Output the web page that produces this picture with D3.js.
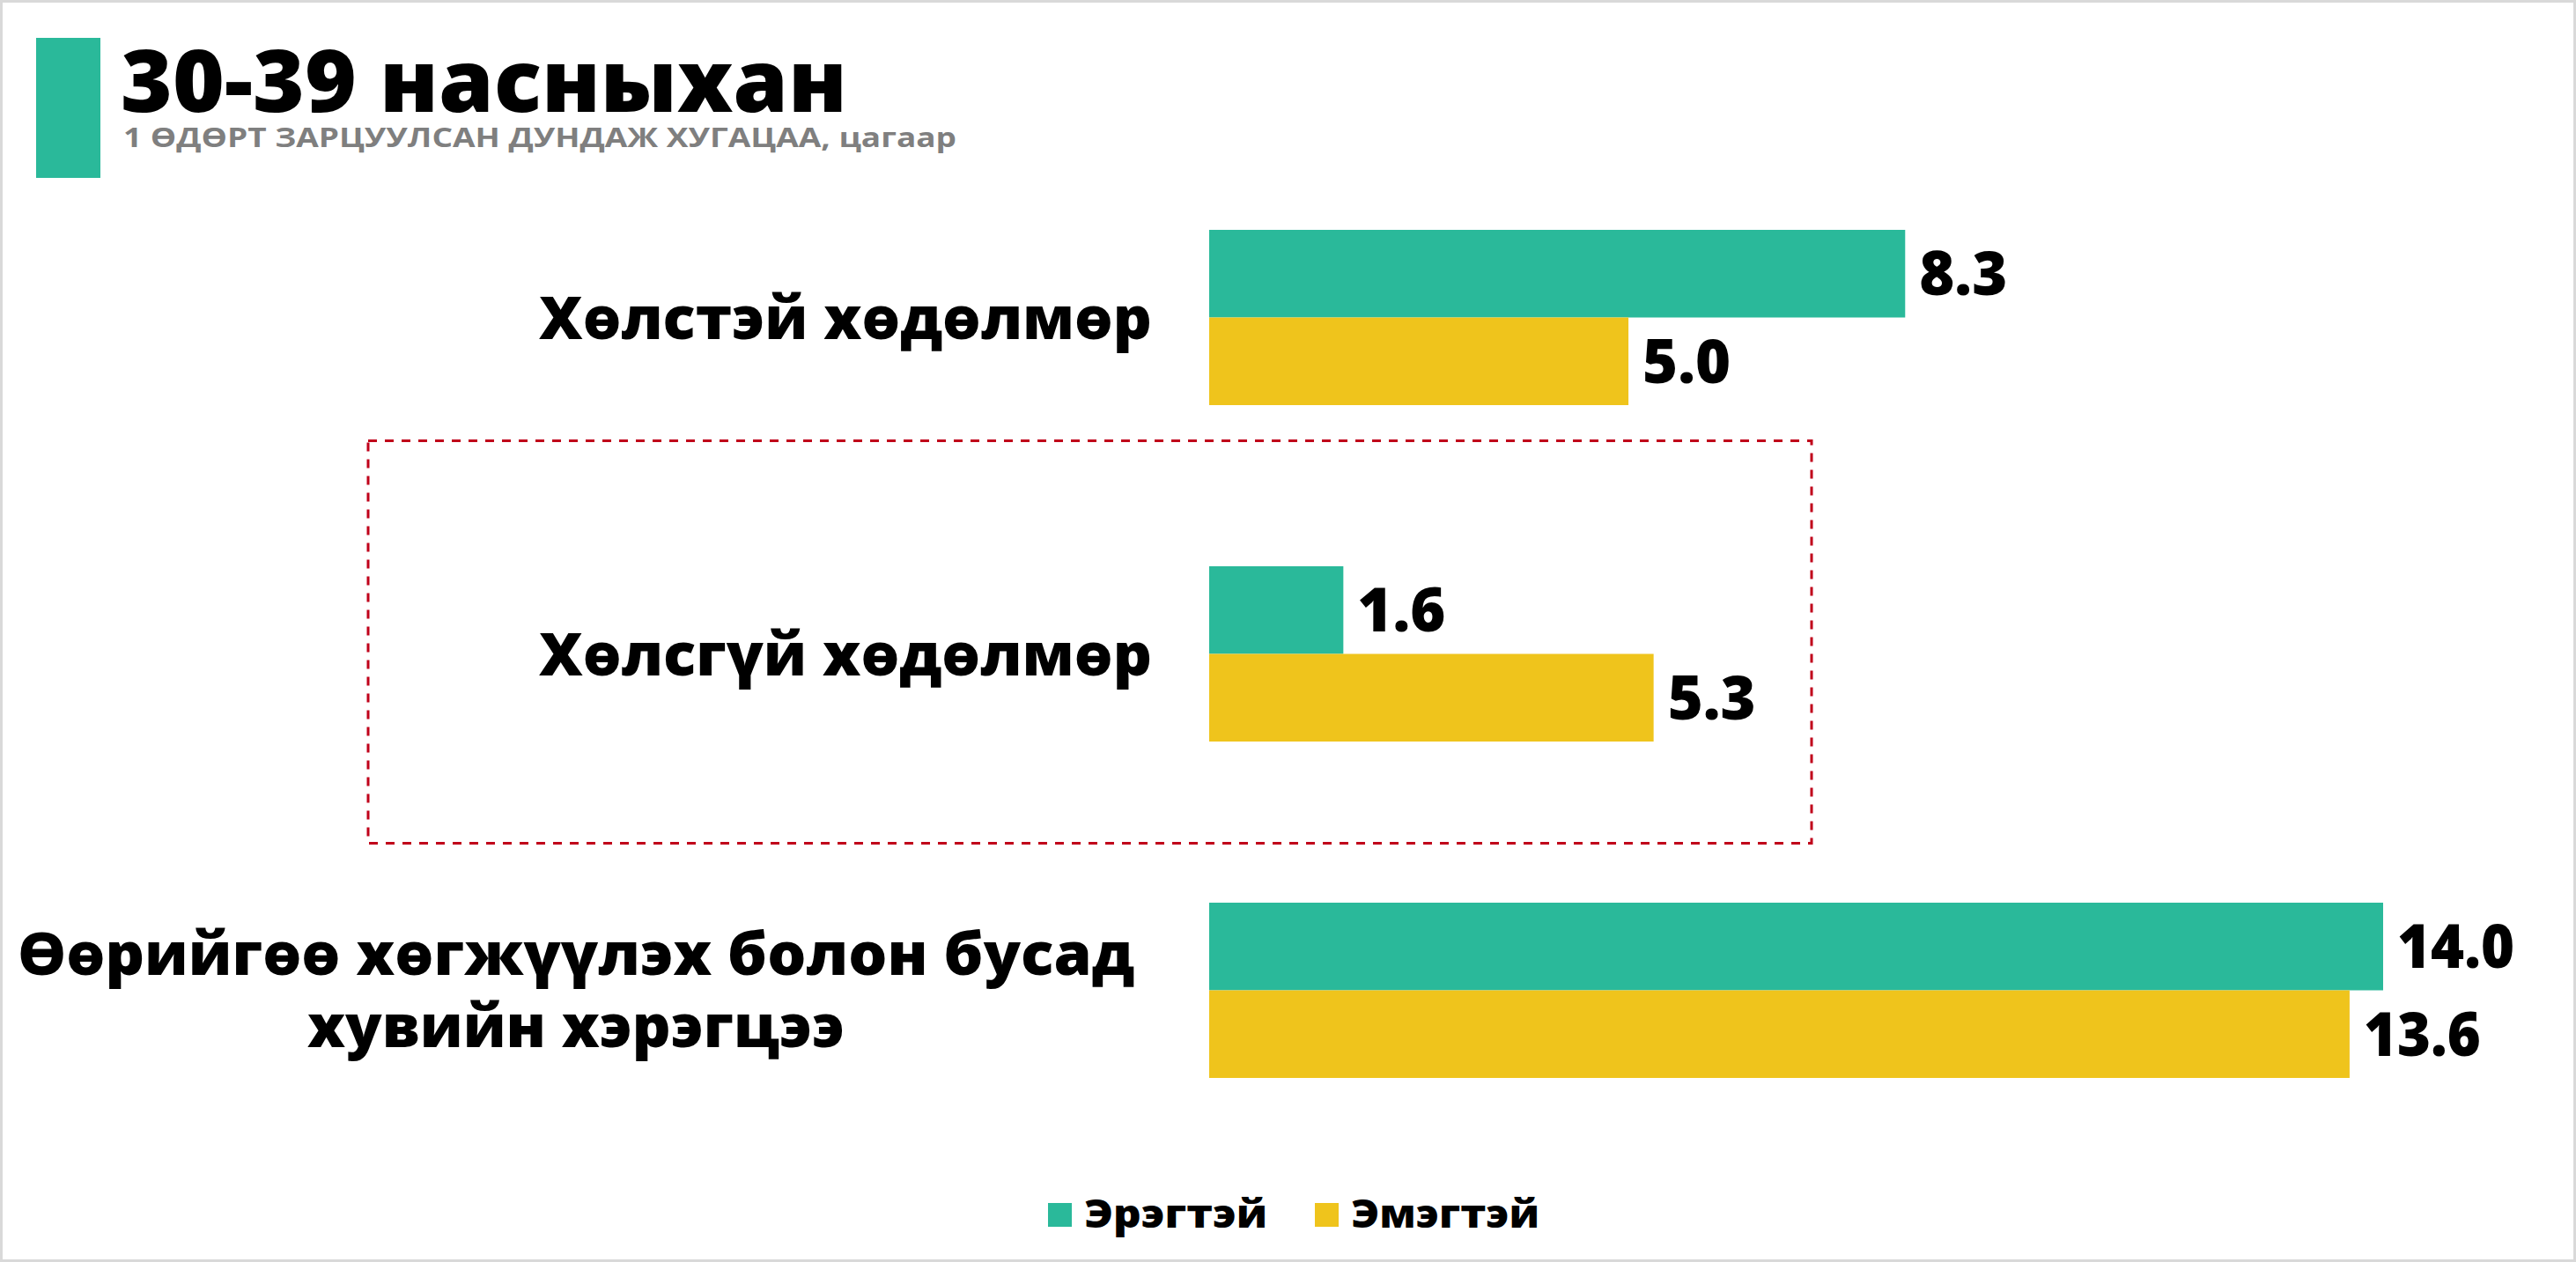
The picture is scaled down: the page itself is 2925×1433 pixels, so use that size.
<!DOCTYPE html>
<html>
<head>
<meta charset="utf-8">
<script src="https://cdn.jsdelivr.net/npm/d3@7"></script>
<style>
  html, body { margin: 0; padding: 0; background: #ffffff; }
  svg { display: block; }
  text { font-family: "Open Sans", "Noto Sans", sans-serif; }
</style>
</head>
<body>
<script>
// ---- data ----
const title = "30-39 насныхан";
const subtitle = "1 ӨДӨРТ ЗАРЦУУЛСАН ДУНДАЖ ХУГАЦАА, цагаар";
const categories = ["Хөлстэй хөдөлмөр", "Хөлсгүй хөдөлмөр", "Өөрийгөө хөгжүүлэх болон бусад\nхувийн хэрэгцээ"];
const seriesNames = ["Эрэгтэй", "Эмэгтэй"];
const maleValues = [8.3, 1.6, 14.0];
const femaleValues = [5.0, 5.3, 13.6];
const highlighted = ["Хөлсгүй хөдөлмөр"];

const colors = ["#2AB99A", "#EFC41C"];
const W = 2925, H = 1433;

const svg = d3.select("body").append("svg").attr("width", W).attr("height", H);

// border
svg.append("rect").attr("x", 1.5).attr("y", 1.5).attr("width", W - 3).attr("height", H - 3)
  .attr("fill", "#fff").attr("stroke", "#d9d9d9").attr("stroke-width", 3);

// helper to fit text widths
function fit(sel, w) { sel.attr("textLength", w).attr("lengthAdjust", "spacingAndGlyphs"); return sel; }

// header
svg.append("rect").attr("x", 41).attr("y", 43).attr("width", 73).attr("height", 159).attr("fill", colors[0]);
fit(svg.append("text").attr("x", 137).attr("y", 127).attr("font-size", 97).attr("font-weight", 800)
  .attr("fill", "#000").text(title), 825);
fit(svg.append("text").attr("x", 140).attr("y", 167).attr("font-size", 30).attr("font-weight", 700)
  .attr("fill", "#7f7f7f").text(subtitle), 946);

// scales
const y = d3.scaleBand().domain(categories).range([261, 1224]).paddingInner(0.479).paddingOuter(0);
const sub = d3.scaleBand().domain(seriesNames).range([0, y.bandwidth()]).padding(0);
const x = d3.scaleLinear().domain([0, 14]).range([1373, 2706]);

// highlight box around selected category
highlighted.forEach(c => {
  const cy = y(c) + y.bandwidth() / 2;
  svg.append("rect").attr("x", 418).attr("y", cy - 242).attr("width", 1639).attr("height", 457)
    .attr("fill", "none").attr("stroke", "#C0001A").attr("stroke-width", 3).attr("stroke-dasharray", "10,9");
});

const rows = categories.map((c, i) => ({ cat: c, vals: [maleValues[i], femaleValues[i]] }));

const g = svg.append("g");
const groups = g.selectAll("g.grp").data(rows).enter().append("g").attr("class", "grp")
  .attr("transform", d => `translate(0,${y(d.cat)})`);

groups.selectAll("rect").data(d => d.vals.map((v, j) => ({ v, s: seriesNames[j], j }))).enter()
  .append("rect")
  .attr("x", x(0))
  .attr("y", d => sub(d.s))
  .attr("width", d => x(d.v) - x(0))
  .attr("height", sub.bandwidth())
  .attr("fill", d => colors[d.j]);

groups.selectAll("text.val").data(d => d.vals.map((v, j) => ({ v, s: seriesNames[j] }))).enter()
  .append("text").attr("class", "val")
  .attr("x", d => x(d.v) + 16)
  .attr("y", d => sub(d.s) + sub.bandwidth() / 2 + 24.5)
  .attr("font-size", 69).attr("font-weight", 800).attr("fill", "#000")
  .each(function(d) {
    const s = d3.select(this).text(d.v.toFixed(1));
    const n = s.text().replace(".", "").length;
    fit(s, n === 2 ? 100 : 133);
  });

// category labels
const labelWidths = { "Хөлстэй хөдөлмөр": [696], "Хөлсгүй хөдөлмөр": [696] };
rows.forEach(r => {
  const lines = r.cat.split("\n");
  const cy = y(r.cat) + y.bandwidth() / 2;
  const lh = 82;
  lines.forEach((ln, k) => {
    const base = cy + 24 + (k - (lines.length - 1) / 2) * lh;
    const t = svg.append("text").attr("y", base).attr("font-size", 68).attr("font-weight", 800)
      .attr("fill", "#000").text(ln);
    if (lines.length === 1) {
      t.attr("x", 1308).attr("text-anchor", "end");
      fit(t, 696);
    } else {
      t.attr("x", 654).attr("text-anchor", "middle");
      fit(t, k === 0 ? 1268 : 610);
    }
  });
});

// legend
const legX = [1190, 1493];
const legW = [208, 214];
seriesNames.forEach((s, i) => {
  svg.append("rect").attr("x", legX[i]).attr("y", 1366).attr("width", 27).attr("height", 27).attr("fill", colors[i]);
  fit(svg.append("text").attr("x", legX[i] + 41).attr("y", 1394).attr("font-size", 45).attr("font-weight", 800)
    .attr("fill", "#000").text(s), legW[i]);
});
</script>
</body>
</html>
